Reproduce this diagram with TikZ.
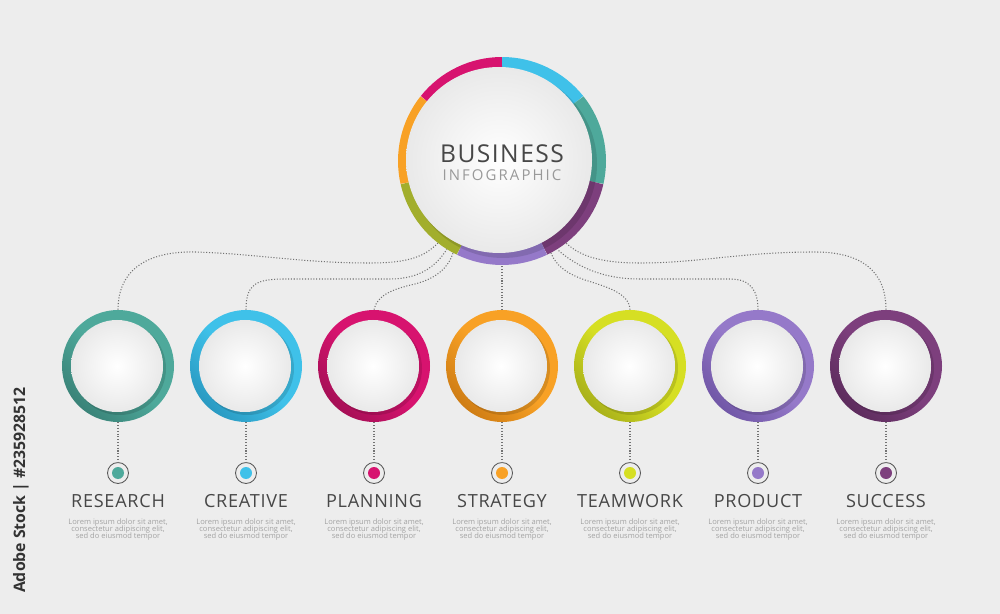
\documentclass[tikz,border=0pt]{standalone}
\usepackage{fontspec}
\setmainfont{Open Sans}
\usetikzlibrary{positioning}
\definecolor{bg}{HTML}{EDEDED}
\definecolor{txt}{HTML}{474747}
\definecolor{lorem}{HTML}{A3A3A3}
\definecolor{disc}{HTML}{E9E9E9}
\definecolor{cteal}{HTML}{4EA99B}
\definecolor{ctealD}{HTML}{3A8378}
\definecolor{ccyan}{HTML}{3FC1E9}
\definecolor{ccyanD}{HTML}{2A9AC2}
\definecolor{cmag}{HTML}{D7136F}
\definecolor{cmagD}{HTML}{A60F56}
\definecolor{corange}{HTML}{F8A125}
\definecolor{corangeD}{HTML}{CF7D14}
\definecolor{clime}{HTML}{D6DF23}
\definecolor{climeD}{HTML}{A9B11A}
\definecolor{clav}{HTML}{9579C9}
\definecolor{clavD}{HTML}{7157A7}
\definecolor{cpurple}{HTML}{7D3F7D}
\definecolor{cpurpleD}{HTML}{5D2C5D}
\definecolor{colive}{HTML}{A2AE2C}
\tikzset{hubring/.style = {circle, inner sep = 0, minimum size = 4.16cm}}
\tikzset{ring/.style = {circle, inner sep = 0, minimum size = 2.24cm}}
\tikzset{dot/.style = {circle, draw = black!65, fill = bg, line width = 0.5pt, inner sep = 0, minimum size = 0.42cm}}
\tikzset{link/.style = {densely dotted, black!55, line width = 0.6pt}}
\tikzset{steptitle/.style = {inner sep = 0, text = txt, font = \fontsize{10.3}{11}\selectfont\addfontfeature{LetterSpace = 4}}}
\tikzset{steptext/.style = {inner sep = 0, align = center, text = lorem, font = \fontsize{4.3}{4.1}\selectfont,
  execute at begin node = {\setlength{\lineskiplimit}{-5pt}}}}

\begin{document}
\begin{tikzpicture}[x = 0.02cm, y = 0.02cm]
  \fill [bg] (0, 0) rectangle (1000, -614);

  \node [hubring] (hub) at (502, -161) {};

  % the seven steps
  \foreach \i/\name/\col/\dark in {1/RESEARCH/cteal/ctealD, 2/CREATIVE/ccyan/ccyanD,
      3/PLANNING/cmag/cmagD, 4/STRATEGY/corange/corangeD, 5/TEAMWORK/clime/climeD,
      6/PRODUCT/clav/clavD, 7/SUCCESS/cpurple/cpurpleD} {
    \pgfmathsetmacro{\x}{118 + 128*(\i - 1)}
    \node [ring] (s\i) at (\x, -366) {};
    \shade [even odd rule, top color = \col, bottom color = \dark, middle color = \col, shading angle = -45]
      (s\i.center) circle (56) circle (45);
    \fill [black, opacity = 0.13] ([shift = {(0.03cm, -0.05cm)}]s\i.center) circle (46.5);
    \shade [inner color = white, outer color = disc] ([xshift = -0.02cm]s\i.center) circle (46);

    \node [dot] (d\i) at (\x, -473) {};
    \fill [\col] (d\i.center) circle (6);
    \draw [link] (s\i) -- (d\i);

    \node [steptitle] (t\i) at (\x, -501) {\name};
    \node [steptext, below = 0.2cm of t\i] (l\i) {Lorem ipsum dolor sit amet,\\ consectetur adipiscing elit,\\ sed do eiusmod tempor};
  }

  % connectors to the hub
  \draw [link] (s1.north) .. controls (118, -268) and (150, -251) .. (195, -252)
    .. controls (260, -254) and (300, -263) .. (370, -263)
    .. controls (410, -263) and (425, -256) .. (hub.-128);
  \draw [link] (s2.north) .. controls (246, -284) and (256, -279) .. (285, -279) -- (390, -279)
    .. controls (420, -279) and (436, -266) .. (hub.-122);
  \draw [link] (s3.north) .. controls (377, -295) and (393, -289) .. (415, -284)
    .. controls (438, -278) and (449, -266) .. (hub.-118);
  \draw [link] (s4.north) -- (hub.south);
  \draw [link] (s5.north) .. controls (629, -293) and (607, -287) .. (585, -280)
    .. controls (565, -273) and (556, -265) .. (hub.-62);
  \draw [link] (s6.north) .. controls (758, -290) and (750, -279) .. (730, -279) -- (640, -279)
    .. controls (600, -279) and (575, -265) .. (hub.-58);
  \draw [link] (s7.north) .. controls (886, -270) and (860, -252) .. (815, -252)
    .. controls (740, -252) and (700, -263) .. (640, -263)
    .. controls (600, -263) and (580, -256) .. (hub.-52);

  % hub ring
  \foreach \col [count = \k from 0] in {ccyan, cteal, cpurple, clav, colive, corange, cmag} {
    \pgfmathsetmacro{\a}{90 - \k*360/7}
    \draw [\col, line width = 0.36cm] (hub.center) ++(\a:95) arc [start angle = \a, delta angle = -360/7, radius = 95];
  }
  \fill [black, opacity = 0.12] ([shift = {(0.02cm, -0.06cm)}]hub.center) circle (94);
  \shade [inner color = white, outer color = disc] ([shift = {(-0.06cm, 0.02cm)}]hub.center) circle (93);
  \node [inner sep = 0, text = txt, font = \fontsize{14}{15}\selectfont\addfontfeature{LetterSpace = 6}] (biz)
    at ([yshift = 0.15cm]hub.center) {BUSINESS};
  \node [inner sep = 0, text = black!40, font = \fontsize{8.5}{9}\selectfont\addfontfeature{LetterSpace = 14}, below = 0.12cm of biz] (info) {INFOGRAPHIC};

  \node [rotate = 90, inner sep = 0, text = black!80, font = \bfseries\fontsize{9}{9}\selectfont] (stock) at (21, -490) {Adobe Stock | \#235928512};
\end{tikzpicture}
\end{document}
